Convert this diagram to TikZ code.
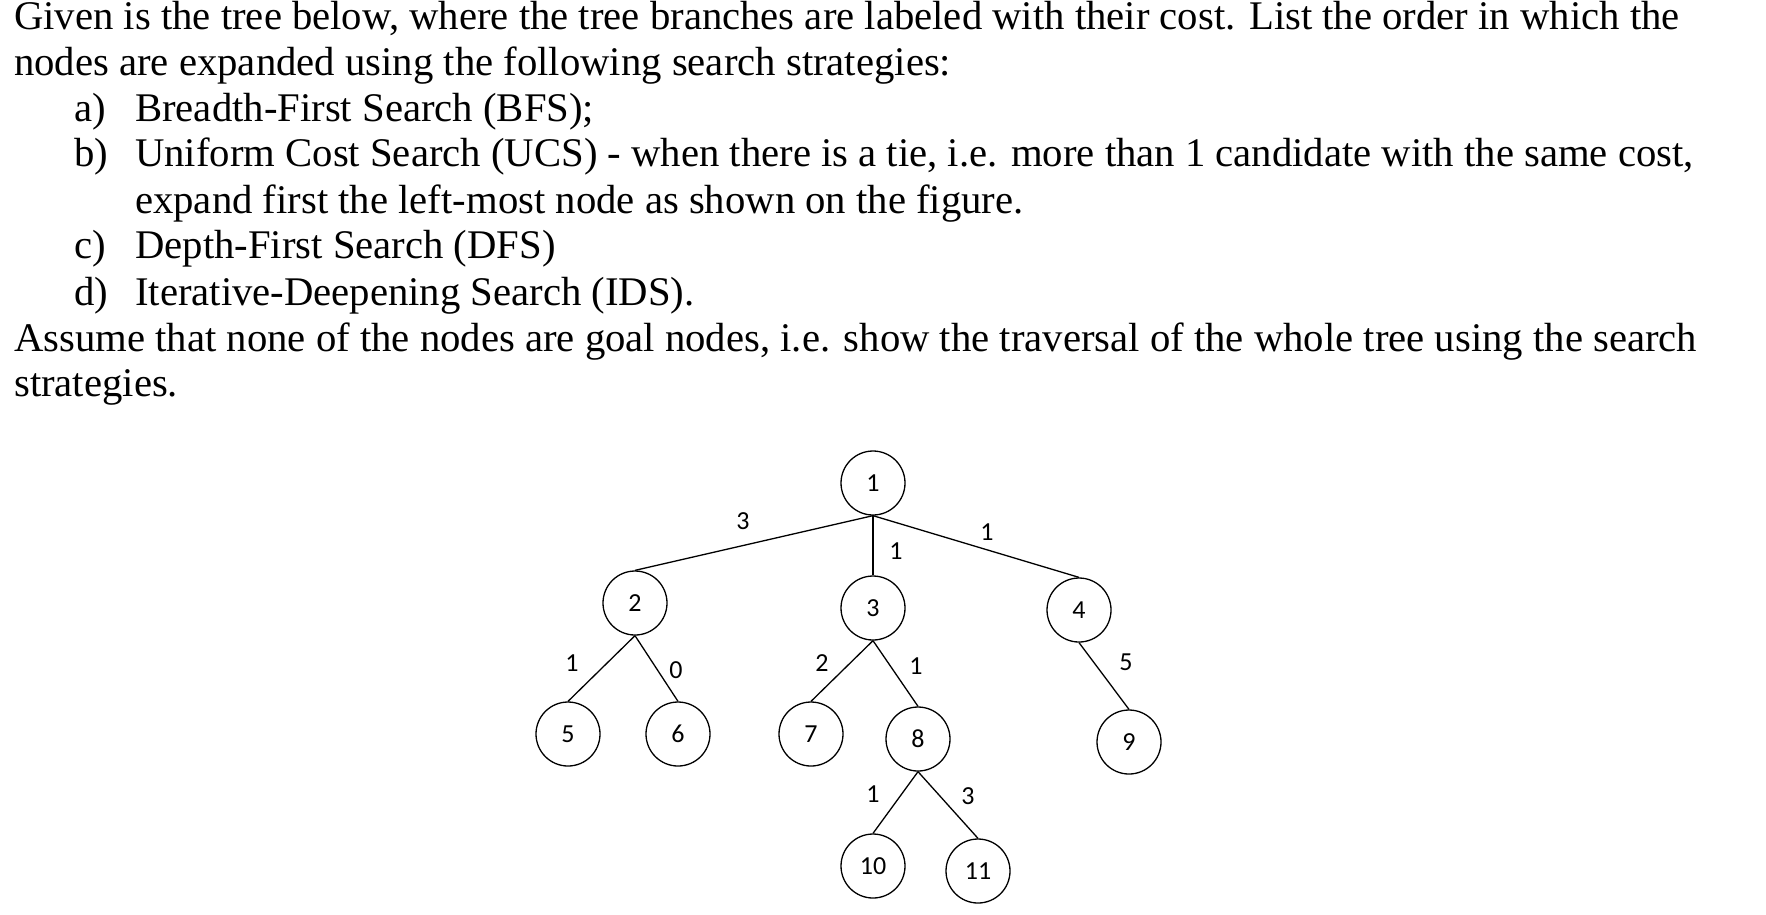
\documentclass[tikz,border=0pt]{standalone}
\usepackage{fontspec}
\setmainfont{Liberation Serif}
\newfontfamily\nodefont{Carlito}
\begin{document}
\begin{tikzpicture}[x=1pt,y=-1pt,
  txt/.style={anchor=base west,inner sep=0pt,font=\fontsize{40.7}{46}\selectfont},
  tn/.style={circle,draw,line width=1.3pt,minimum size=64pt,inner sep=0pt,font=\nodefont\fontsize{26}{30}\selectfont},
  el/.style={inner sep=0pt,font=\nodefont\fontsize{26}{30}\selectfont},
  edge/.style={line width=1.3pt}]
\useasboundingbox (0,0) rectangle (1766,914);
\node[txt] (t1) at (14,29) {Given is the tree below, where the tree branches are labeled with their cost. List the order in which the};
\node[txt] (t2) at (14,75) {nodes are expanded using the following search strategies:};
\node[txt] (t3a) at (74,121) {a)};\node[txt] (t3) at (135,121) {Breadth-First Search (BFS);};
\node[txt] (t4a) at (74,166) {b)};\node[txt] (t4) at (135,166) {Uniform Cost Search (UCS) - when there is a tie, i.e. more than 1 candidate with the same cost,};
\node[txt] (t5) at (135,213) {expand first the left-most node as shown on the figure.};
\node[txt] (t6a) at (74,258) {c)};\node[txt] (t6) at (135,258) {Depth-First Search (DFS)};
\node[txt] (t7a) at (74,305) {d)};\node[txt] (t7) at (135,305) {Iterative-Deepening Search (IDS).};
\node[txt] (t8) at (14,351) {Assume that none of the nodes are goal nodes, i.e. show the traversal of the whole tree using the search};
\node[txt] (t9) at (14,396) {strategies.};
\node[tn] (n1) at (873,483) {1};
\node[tn] (n2) at (635,603) {2};
\node[tn] (n3) at (873,608) {3};
\node[tn] (n4) at (1079,610) {4};
\node[tn] (n5) at (568,734) {5};
\node[tn] (n6) at (678,734) {6};
\node[tn] (n7) at (811,734) {7};
\node[tn] (n8) at (918,739) {8};
\node[tn] (n9) at (1129,742) {9};
\node[tn] (n10) at (873,866) {10};
\node[tn] (n11) at (978,871) {11};
\draw[edge] (n1.south) -- (n2.north);
\draw[edge] (n1.south) -- (n3.north);
\draw[edge] (n1.south) -- (n4.north);
\draw[edge] (n2.south) -- (n5.north);
\draw[edge] (n2.south) -- (n6.north);
\draw[edge] (n3.south) -- (n7.north);
\draw[edge] (n3.south) -- (n8.north);
\draw[edge] (n4.south) -- (n9.north);
\draw[edge] (n8.south) -- (n10.north);
\draw[edge] (n8.south) -- (n11.north);
\node[el] (l12) at (743,521) {3};
\node[el] (l13) at (896,551) {1};
\node[el] (l14) at (987,532) {1};
\node[el] (l25) at (572,663) {1};
\node[el] (l26) at (676,670) {0};
\node[el] (l37) at (822,663) {2};
\node[el] (l38) at (916,666) {1};
\node[el] (l49) at (1126,662) {5};
\node[el] (l810) at (873,794) {1};
\node[el] (l811) at (968,796) {3};
\end{tikzpicture}
\end{document}
